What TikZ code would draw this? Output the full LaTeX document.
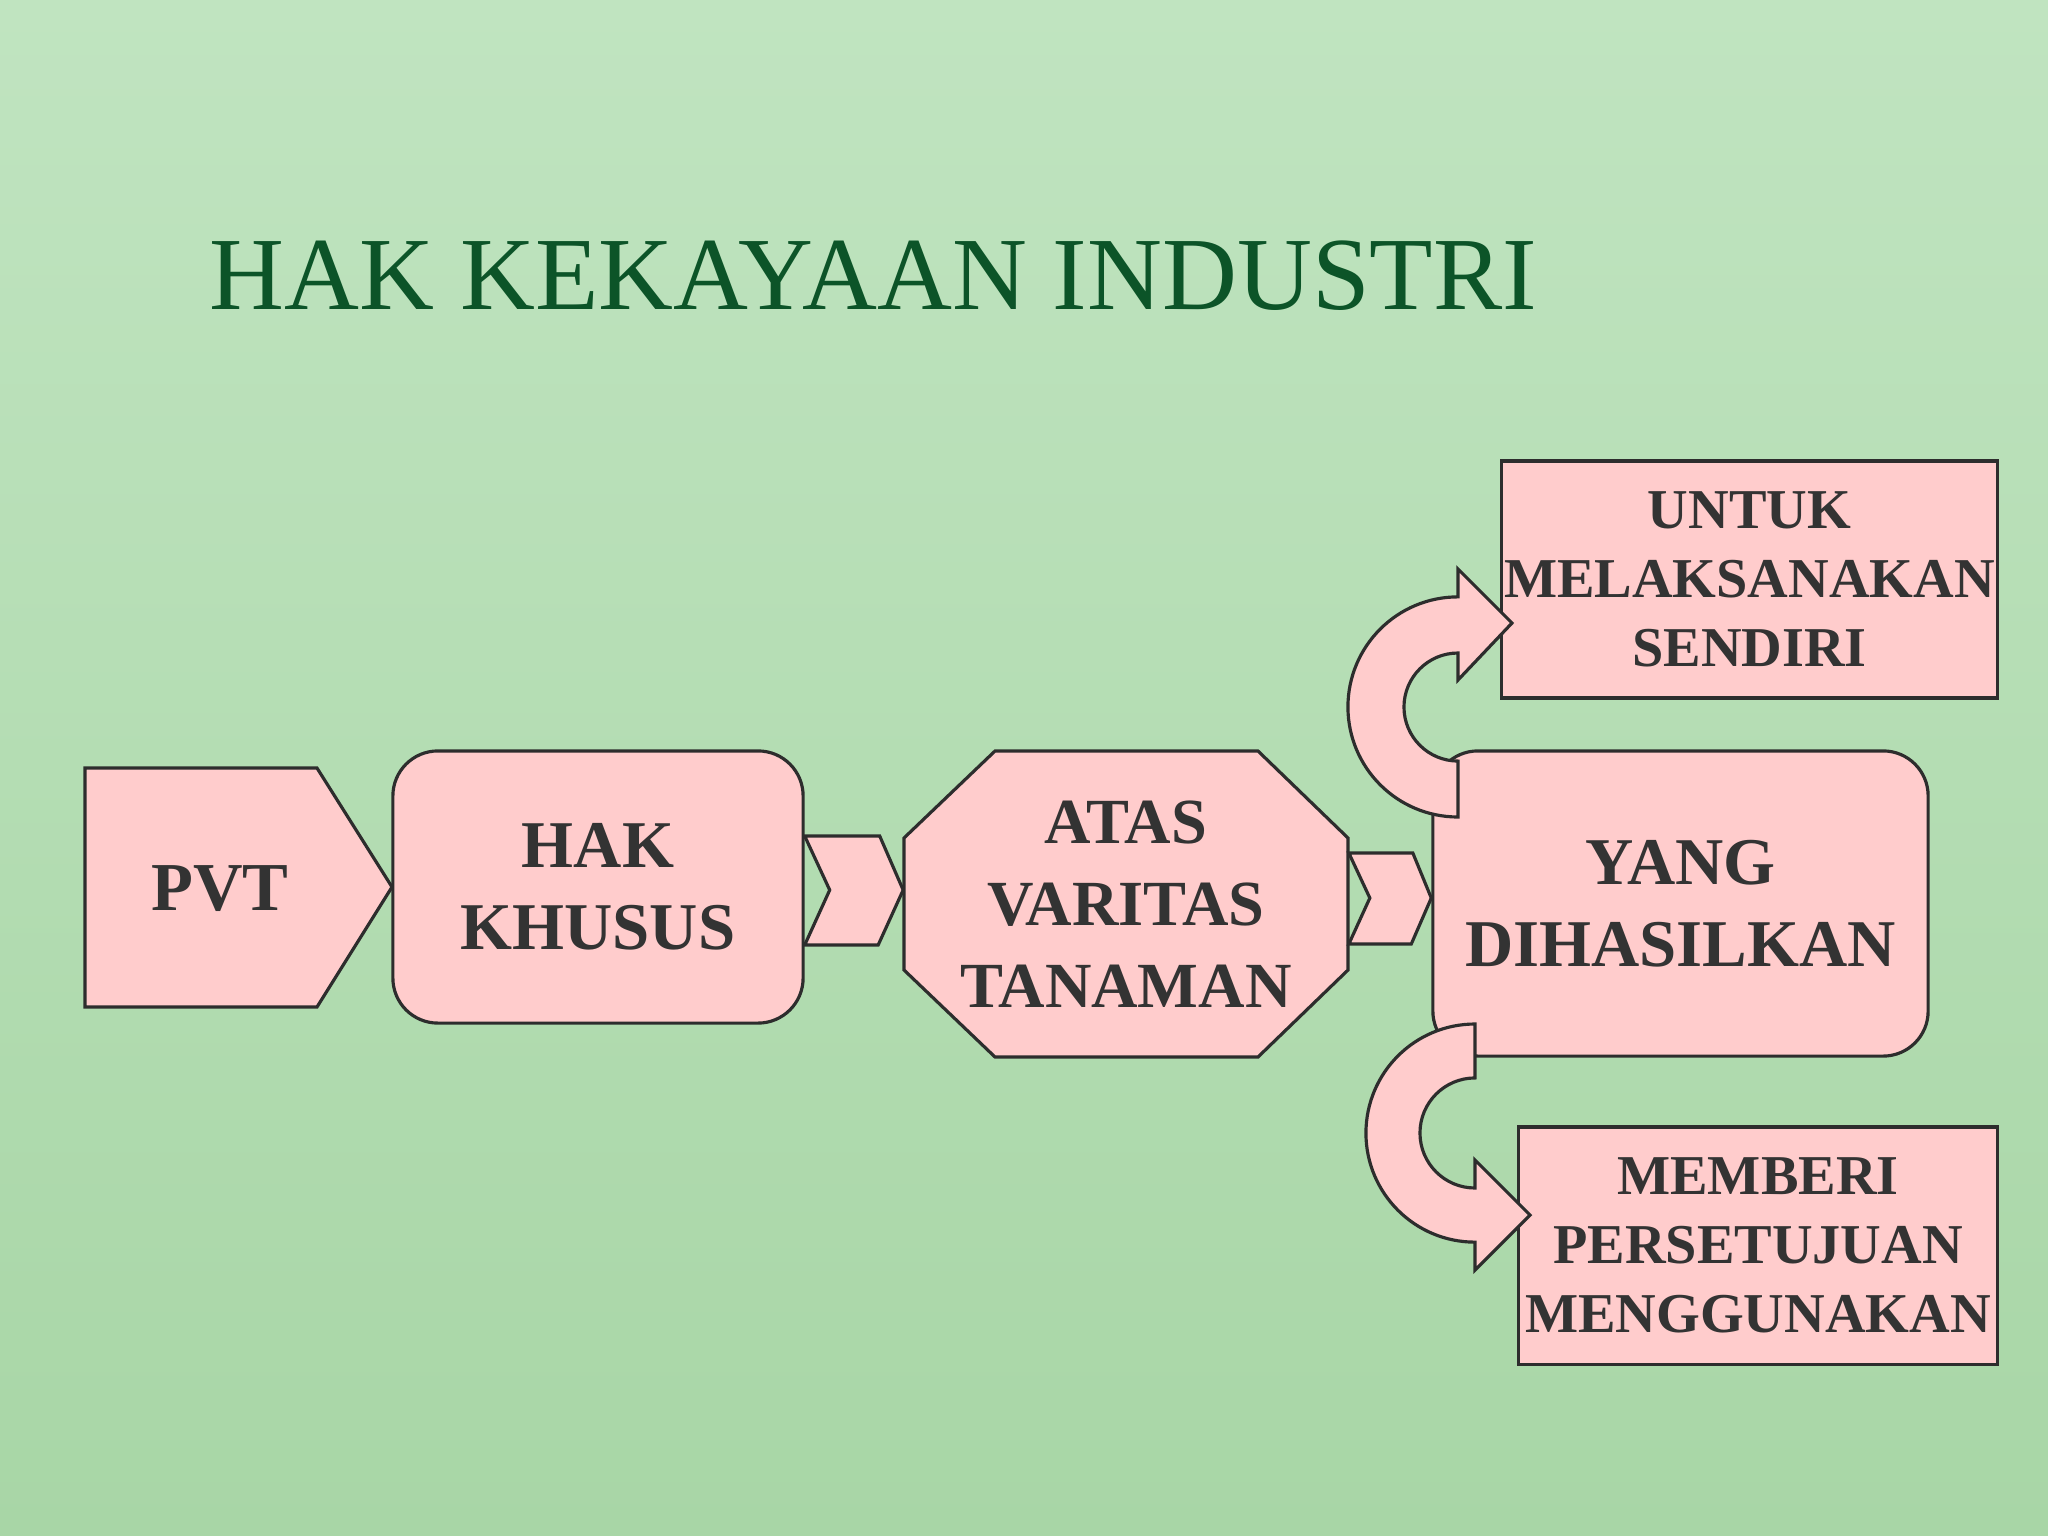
\documentclass[tikz,border=0pt]{standalone}
\usepackage{fontspec}
\setmainfont{Liberation Serif}
\usetikzlibrary{positioning}

\definecolor{boxpink}{RGB}{255,204,204}
\definecolor{edgegray}{RGB}{45,45,45}
\definecolor{textgray}{RGB}{51,51,51}
\definecolor{titlegreen}{RGB}{12,84,40}
\definecolor{bgtop}{RGB}{192,228,192}
\definecolor{bgbottom}{RGB}{168,214,166}

\tikzset{
  pinkbox/.style={draw=edgegray, fill=boxpink, line width=0.9pt, text=textgray,
    align=center, inner sep=0pt, font=\bfseries\fontsize{19}{23.3}\selectfont},
  smallbox/.style={pinkbox, font=\bfseries\fontsize{16}{19.6}\selectfont},
  boxtext/.style={text=textgray, align=center, inner sep=0pt},
  blockarrow/.style={draw=edgegray, fill=boxpink, line width=0.9pt},
}

\begin{document}
\begin{tikzpicture}[x=0.01cm, y=-0.01cm]
            % Background
            \useasboundingbox (0,0) rectangle (2048,1536);
            \shade[top color=bgtop, bottom color=bgbottom] (0,0) rectangle (2048,1536);

            % Title
            \node[anchor=base west, inner sep=0pt, text=titlegreen, font=\fontsize{29.5}{34}\selectfont] (title) at (209,309) {HAK KEKAYAAN INDUSTRI};

            % Pentagon PVT
            \draw[blockarrow] (85,768) -- (317,768) -- (392,887) -- (317,1007) -- (85,1007) -- cycle;
            \node[boxtext, font=\bfseries\fontsize{19.5}{23}\selectfont] (pvt) at (220,889) {PVT};

            % Rounded box
            \node[pinkbox, rounded corners=0.45cm, minimum width=4.1cm, minimum height=2.72cm] (hak) at (598,887) {HAK\\KHUSUS};

            % Octagon
            \draw[blockarrow] (995,751) -- (1258,751) -- (1348,838) -- (1348,970) -- (1258,1057)
              -- (995,1057) -- (904,970) -- (904,838) -- cycle;
            \node[boxtext, minimum width=4.44cm, minimum height=3.06cm, font=\bfseries\fontsize{18.3}{23.3}\selectfont] (atas) at (1126,904) {ATAS\\VARITAS\\TANAMAN};

            \node[pinkbox, rounded corners=0.45cm, minimum width=4.95cm, minimum height=3.05cm] (yang) at (1680.5,903.5) {YANG\\DIHASILKAN};

            % Chevrons between the boxes
            \draw[blockarrow] (hak.east |- 0,836) -- ++(75,0) -- (atas.west |- 0,890) -- ++(-25,55)
              -- (hak.east |- 0,945) -- ++(25,-55) -- cycle;
            \draw[blockarrow] (atas.east |- 0,853) -- ++(64,0) -- (yang.west |- 0,898) -- ++(-20,46)
              -- (atas.east |- 0,944) -- ++(21,-46) -- cycle;

            % Two outcomes
            \node[smallbox, minimum width=4.95cm, minimum height=2.37cm] (untuk) at (1749.5,579.5) {UNTUK\\MELAKSANAKAN\\SENDIRI};
            \node[smallbox, minimum width=4.78cm, minimum height=2.37cm] (memberi) at (1758,1245.5) {MEMBERI\\PERSETUJUAN\\MENGGUNAKAN};

            % U-turn arrow up to untuk
            \draw[blockarrow] (1458,817) arc[start angle=270, end angle=90, radius=1.1cm]
              -- (1458,569) -- (1512,623) -- (1458,680) -- (1458,653)
              arc[start angle=90, end angle=270, radius=0.54cm] -- cycle;

            % U-turn arrow down to memberi
            \draw[blockarrow] (1475,1024) arc[start angle=90, end angle=270, radius=1.09cm]
              -- (1475,1270) -- (1530,1215) -- (1475,1160) -- (1475,1188)
              arc[start angle=270, end angle=90, radius=0.55cm] -- cycle;
\end{tikzpicture}
\end{document}
